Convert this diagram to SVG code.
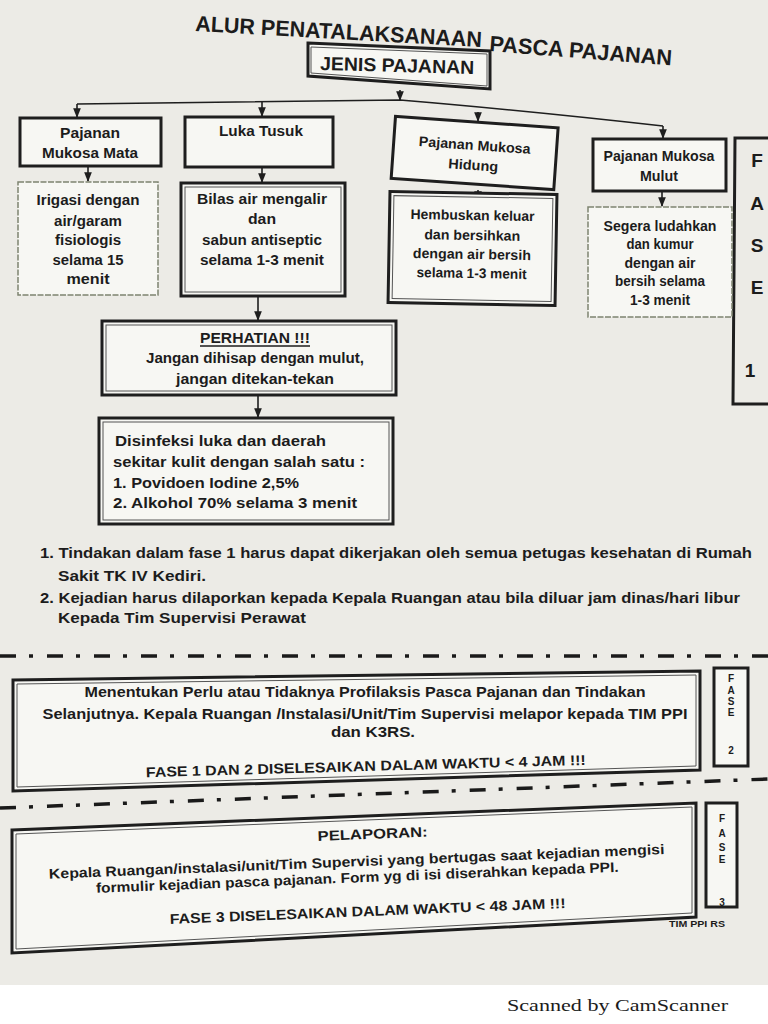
<svg xmlns="http://www.w3.org/2000/svg" width="768" height="1024" viewBox="0 0 768 1024">
<defs>
<style>
text{font-family:"Liberation Sans",Arial,sans-serif;font-weight:bold;fill:#1c1c1c}
.c{text-anchor:middle}
.b{font-size:14px}
.n{font-size:15px}
.box{fill:#f7f7f3;stroke:#1e1e1e;stroke-width:3}
.thin{fill:#f7f7f3;stroke:#7d8470;stroke-width:1.5;stroke-dasharray:6 1.5}
.inner{fill:none;stroke:#555;stroke-width:1}
.con{fill:none;stroke:#1e1e1e;stroke-width:1.6}
.dd{fill:none;stroke:#1a1a1a;stroke-width:3.5;stroke-dasharray:16 13 4 14}
.s{font-size:10px}
</style>
<marker id="ah" viewBox="0 0 10 10" refX="9" refY="5" markerWidth="6" markerHeight="6" orient="auto">
<path d="M0,1 L10,5 L0,9 z" fill="#1e1e1e"/>
</marker>
</defs>
<rect x="0" y="0" width="768" height="1024" fill="#ecebe6"/>
<rect x="0" y="985" width="768" height="39" fill="#ffffff"/>

<g id="title">
<text x="195" y="31" font-size="22" textLength="287" lengthAdjust="spacingAndGlyphs" transform="rotate(3.2 195 31)">ALUR PENATALAKSANAAN</text>
<text x="489" y="51" font-size="22" textLength="183" lengthAdjust="spacingAndGlyphs" transform="rotate(4.5 489 51)">PASCA PAJANAN</text>
</g>

<g id="jenis">
<polygon class="box" points="308,43 490,51 490,89 308,76"/>
<polygon points="311,47 487,54 487,86 311,73" fill="none" stroke="#555" stroke-width="1"/>
<text class="c" x="397" y="72" font-size="19" textLength="154" lengthAdjust="spacingAndGlyphs" transform="rotate(1.5 397 72)">JENIS PAJANAN</text>
</g>

<g id="connectors">
<path class="con" d="M400,90 L400,100" marker-end="url(#ah)"/>
<path class="con" d="M77,104 L400,100 Q520,110 663,126"/>
<path class="con" d="M77,104 L77,117" marker-end="url(#ah)"/>
<path class="con" d="M262,102 L262,116" marker-end="url(#ah)"/>
<path class="con" d="M478,112 L478,121" marker-end="url(#ah)"/>
<path class="con" d="M663,126 L663,138" marker-end="url(#ah)"/>
<path class="con" d="M88,166 L88,181" marker-end="url(#ah)"/>
<path class="con" d="M262,167 L262,182" marker-end="url(#ah)"/>
<path class="con" d="M478,190 L478,200" marker-end="url(#ah)"/>
<path class="con" d="M662,191 L662,206" marker-end="url(#ah)"/>
<path class="con" d="M258,297 L258,320" marker-end="url(#ah)"/>
<path class="con" d="M258,395 L258,417" marker-end="url(#ah)"/>
<path class="dd" d="M0,656 L768,656"/>
<path class="dd" d="M0,808 L768,779"/>
</g>

<g id="mata">
<rect class="box" x="20" y="118" width="141" height="48"/>
<text class="c b" x="90" y="138" textLength="60" lengthAdjust="spacingAndGlyphs">Pajanan</text>
<text class="c b" x="90" y="158" textLength="96" lengthAdjust="spacingAndGlyphs">Mukosa Mata</text>
</g>
<g id="luka">
<rect class="box" x="185" y="117" width="148" height="50"/>
<text class="c b" x="261" y="136" textLength="84" lengthAdjust="spacingAndGlyphs">Luka Tusuk</text>
</g>
<g id="hidung" transform="rotate(4 474 155)">
<rect class="box" x="393" y="122" width="163" height="62"/>
<text class="c b" x="474" y="150" textLength="112" lengthAdjust="spacingAndGlyphs">Pajanan Mukosa</text>
<text class="c b" x="474" y="170" textLength="50" lengthAdjust="spacingAndGlyphs">Hidung</text>
</g>
<g id="mulut">
<rect class="box" x="593" y="139" width="133" height="52"/>
<text class="c b" x="659" y="161" textLength="111" lengthAdjust="spacingAndGlyphs">Pajanan Mukosa</text>
<text class="c b" x="659" y="181" textLength="38" lengthAdjust="spacingAndGlyphs">Mulut</text>
</g>
<g id="fase1">
<path d="M770,138 L735,138 L733,404 L770,404" fill="none" stroke="#1e1e1e" stroke-width="3"/>
<text class="c" x="757" y="167" font-size="19">F</text>
<text class="c" x="757" y="210" font-size="19">A</text>
<text class="c" x="757" y="252" font-size="19">S</text>
<text class="c" x="757" y="294" font-size="19">E</text>
<text class="c" x="750" y="377" font-size="19">1</text>
</g>

<g id="irigasi">
<rect class="thin" x="18" y="182" width="140" height="113"/>
<text class="c b" x="88" y="205" textLength="103" lengthAdjust="spacingAndGlyphs">Irigasi dengan</text>
<text class="c b" x="88" y="226" textLength="68" lengthAdjust="spacingAndGlyphs">air/garam</text>
<text class="c b" x="88" y="245" textLength="66" lengthAdjust="spacingAndGlyphs">fisiologis</text>
<text class="c b" x="88" y="265" textLength="71" lengthAdjust="spacingAndGlyphs">selama 15</text>
<text class="c b" x="88" y="284" textLength="43" lengthAdjust="spacingAndGlyphs">menit</text>
</g>
<g id="bilas">
<rect class="box" x="181" y="183" width="164" height="113"/>
<rect class="inner" x="185" y="187" width="156" height="105"/>
<text class="c b" x="262" y="204" textLength="130" lengthAdjust="spacingAndGlyphs">Bilas air mengalir</text>
<text class="c b" x="262" y="224" textLength="28" lengthAdjust="spacingAndGlyphs">dan</text>
<text class="c b" x="262" y="245" textLength="120" lengthAdjust="spacingAndGlyphs">sabun antiseptic</text>
<text class="c b" x="262" y="265" textLength="124" lengthAdjust="spacingAndGlyphs">selama 1-3 menit</text>
</g>
<g id="hembuskan" transform="rotate(1 472 249)">
<rect class="box" x="389" y="193" width="167" height="111"/>
<rect class="inner" x="393" y="197" width="159" height="103"/>
<text class="c b" x="472" y="220" textLength="124" lengthAdjust="spacingAndGlyphs">Hembuskan keluar</text>
<text class="c b" x="472" y="240" textLength="96" lengthAdjust="spacingAndGlyphs">dan bersihkan</text>
<text class="c b" x="472" y="259" textLength="118" lengthAdjust="spacingAndGlyphs">dengan air bersih</text>
<text class="c b" x="472" y="278" textLength="110" lengthAdjust="spacingAndGlyphs">selama 1-3 menit</text>
</g>
<g id="segera">
<rect class="thin" x="588" y="207" width="144" height="110"/>
<text class="c b" x="660" y="231" textLength="113" lengthAdjust="spacingAndGlyphs">Segera ludahkan</text>
<text class="c b" x="660" y="249" textLength="67" lengthAdjust="spacingAndGlyphs">dan kumur</text>
<text class="c b" x="660" y="268" textLength="71" lengthAdjust="spacingAndGlyphs">dengan air</text>
<text class="c b" x="660" y="286" textLength="90" lengthAdjust="spacingAndGlyphs">bersih selama</text>
<text class="c b" x="660" y="305" textLength="60" lengthAdjust="spacingAndGlyphs">1-3 menit</text>
</g>

<g id="perhatian">
<rect class="box" x="102" y="321" width="294" height="74"/>
<rect class="inner" x="106" y="325" width="286" height="66"/>
<text class="c b" x="255" y="343" textLength="110" lengthAdjust="spacingAndGlyphs">PERHATIAN !!!</text>
<line x1="200" y1="346" x2="310" y2="346" stroke="#1c1c1c" stroke-width="1.3"/>
<text class="c b" x="255" y="363" textLength="218" lengthAdjust="spacingAndGlyphs">Jangan dihisap dengan mulut,</text>
<text class="c b" x="255" y="384" textLength="158" lengthAdjust="spacingAndGlyphs">jangan ditekan-tekan</text>
</g>
<g id="disinfeksi">
<rect class="box" x="99" y="418" width="294" height="106"/>
<rect class="inner" x="103" y="422" width="286" height="98"/>
<text class="n" x="115" y="446" textLength="211" lengthAdjust="spacingAndGlyphs">Disinfeksi luka dan daerah</text>
<text class="n" x="113" y="467" textLength="252" lengthAdjust="spacingAndGlyphs">sekitar kulit dengan salah satu :</text>
<text class="n" x="113" y="488" textLength="186" lengthAdjust="spacingAndGlyphs">1. Povidoen Iodine  2,5%</text>
<text class="n" x="113" y="508" textLength="244" lengthAdjust="spacingAndGlyphs">2. Alkohol 70% selama 3 menit</text>
</g>

<g id="notes">
<text class="n" x="40" y="558" textLength="712" lengthAdjust="spacingAndGlyphs">1. Tindakan dalam fase 1 harus dapat dikerjakan oleh semua petugas kesehatan di Rumah</text>
<text class="n" x="58" y="581" textLength="148" lengthAdjust="spacingAndGlyphs">Sakit TK IV Kediri.</text>
<text class="n" x="40" y="603" textLength="700" lengthAdjust="spacingAndGlyphs">2. Kejadian harus dilaporkan kepada Kepala Ruangan atau bila diluar jam dinas/hari libur</text>
<text class="n" x="58" y="623" textLength="248" lengthAdjust="spacingAndGlyphs">Kepada Tim Supervisi Perawat</text>
</g>

<g id="fase2box">
<polygon class="box" points="13,680 700,671 700,770 13,791"/>
<polygon points="17,684 696,675 696,766 17,787" fill="none" stroke="#555" stroke-width="1"/>
<text class="c b" x="365" y="697" textLength="561" lengthAdjust="spacingAndGlyphs">Menentukan Perlu atau Tidaknya Profilaksis Pasca Pajanan dan Tindakan</text>
<text class="c b" x="365" y="719" textLength="645" lengthAdjust="spacingAndGlyphs">Selanjutnya. Kepala Ruangan /Instalasi/Unit/Tim Supervisi melapor kepada TIM PPI</text>
<text class="c b" x="373" y="737" textLength="84" lengthAdjust="spacingAndGlyphs">dan K3RS.</text>
<text class="c b" x="366" y="771" textLength="440" lengthAdjust="spacingAndGlyphs" transform="rotate(-1.6 366 771)">FASE 1 DAN 2 DISELESAIKAN DALAM WAKTU &lt; 4 JAM !!!</text>
</g>
<g id="fase2">
<rect class="box" x="714" y="668" width="34" height="98"/>
<text class="c s" x="731" y="682">F</text>
<text class="c s" x="731" y="694">A</text>
<text class="c s" x="731" y="705">S</text>
<text class="c s" x="731" y="716">E</text>
<text class="c s" x="731" y="754">2</text>
</g>

<g id="fase3box">
<polygon class="box" points="12,830 696,803 696,917 12,953"/>
<polygon points="16,834 692,807 692,913 16,949" fill="none" stroke="#555" stroke-width="1"/>
<g transform="rotate(-2.3 366 870)">
<text class="c b" x="374" y="839" textLength="110" lengthAdjust="spacingAndGlyphs">PELAPORAN:</text>
<text class="c b" x="357" y="866" textLength="616" lengthAdjust="spacingAndGlyphs">Kepala Ruangan/instalasi/unit/Tim Supervisi yang bertugas saat kejadian mengisi</text>
<text class="c b" x="357" y="882" textLength="523" lengthAdjust="spacingAndGlyphs">formulir kejadian pasca pajanan. Form yg di isi diserahkan kepada PPI.</text>
<text class="c b" x="366" y="916" textLength="396" lengthAdjust="spacingAndGlyphs">FASE 3 DISELESAIKAN DALAM WAKTU &lt; 48 JAM !!!</text>
</g>
</g>
<g id="fase3">
<rect class="box" x="706" y="803" width="31" height="104"/>
<text class="c s" x="722" y="822">F</text>
<text class="c s" x="722" y="837">A</text>
<text class="c s" x="722" y="851">S</text>
<text class="c s" x="722" y="863">E</text>
<text class="c s" x="722" y="906">3</text>
</g>
<text x="669" y="927" font-size="9" textLength="56" lengthAdjust="spacingAndGlyphs">TIM PPI RS</text>

<text x="507" y="1011" style="font-family:'Liberation Serif','Times New Roman',serif;font-weight:normal" font-size="17" fill="#111" textLength="221" lengthAdjust="spacingAndGlyphs">Scanned by CamScanner</text>
</svg>
